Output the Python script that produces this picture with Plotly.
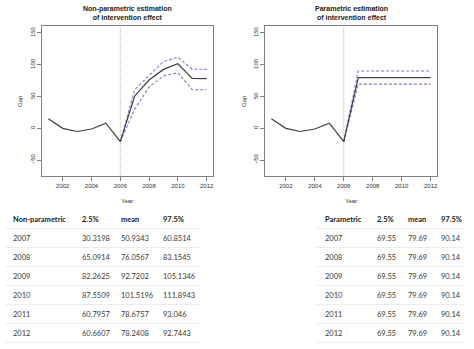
import plotly.graph_objects as go

W, H = 474, 349

years_pre = [2001, 2002, 2003, 2004, 2005, 2006]
gap_pre = [15, 0, -5, -1, 8, -21]
intervention_year = 2006

years_post = [2007, 2008, 2009, 2010, 2011, 2012]
np_low = [30.3198, 65.0914, 82.2625, 87.5509, 60.7957, 60.6607]
np_mean = [50.9343, 76.0567, 92.7202, 101.5196, 78.6757, 78.2408]
np_high = [60.8514, 83.1545, 105.1346, 111.8943, 93.046, 92.7443]

p_low = [69.55, 69.55, 69.55, 69.55, 69.55, 69.55]
p_mean = [79.69, 79.69, 79.69, 79.69, 79.69, 79.69]
p_high = [90.14, 90.14, 90.14, 90.14, 90.14, 90.14]

x_ticks = [2002, 2004, 2006, 2008, 2010, 2012]
y_ticks = [-50, 0, 50, 100, 150]

np_header = ["Non-parametric", "2.5%", "mean", "97.5%"]
p_header = ["Parametric", "2.5%", "mean", "97.5%"]
titles = ["Non-parametric estimation<br>of intervention effect",
          "Parametric estimation<br>of intervention effect"]


def px_x(p):
    return p / W


def px_y(p):
    return 1 - p / H


fig = go.Figure()

line_col = "#404040"
band_col = "#7b7be8"

panels = [
    ("x", "y", np_low, np_mean, np_high),
    ("x2", "y2", p_low, p_mean, p_high),
]
last_pre = gap_pre[-1]
for xa, ya, lo, mn, hi in panels:
    fig.add_shape(type="line", xref=xa, yref=f"{ya} domain", x0=intervention_year,
                  x1=intervention_year, y0=0, y1=1, layer="below",
                  line=dict(color="#b5b5b5", width=1, dash="1px,1px"))
    xs = [intervention_year] + years_post
    for series in (lo, hi):
        fig.add_trace(go.Scatter(x=xs, y=[last_pre] + series, mode="lines", xaxis=xa, yaxis=ya,
                                 line=dict(color=band_col, width=1.1, dash="3px,2px"),
                                 showlegend=False, hoverinfo="skip"))
    fig.add_trace(go.Scatter(x=years_pre + years_post, y=gap_pre + mn, mode="lines",
                             xaxis=xa, yaxis=ya, line=dict(color=line_col, width=1.2),
                             showlegend=False, hoverinfo="skip"))

tickfont = dict(family="Liberation Sans, Arial", size=6, color="#333333")
axis_common = dict(showgrid=False, zeroline=False, showline=True, mirror=True,
                   linecolor="#808080", linewidth=1, ticks="outside", ticklen=4,
                   tickcolor="#808080", tickfont=tickfont)

ydom = [px_y(176), px_y(26)]
fig.update_layout(
    xaxis=dict(domain=[px_x(42), px_x(213)], range=[2000.56, 2012.44], tickvals=x_ticks,
               anchor="y", **axis_common),
    yaxis=dict(domain=ydom, range=[-75, 161], tickvals=y_ticks, tickangle=-90,
               anchor="x", **axis_common),
    xaxis2=dict(domain=[px_x(265), px_x(437)], range=[2000.56, 2012.44], tickvals=x_ticks,
                anchor="y2", **axis_common),
    yaxis2=dict(domain=ydom, range=[-75, 161], tickvals=y_ticks, tickangle=-90,
                anchor="x2", **axis_common),
)

# titles and axis labels
lab_font = dict(family="Liberation Sans, Arial", size=6, color="#333333")
for cx, ylab_x, t in [(127, 20, titles[0]), (351, 244, titles[1])]:
    fig.add_annotation(text=f"<b>{t}</b>", xref="paper", yref="paper", x=px_x(cx), y=px_y(3),
                       xanchor="center", yanchor="top", showarrow=False,
                       font=dict(family="Liberation Sans, Arial", size=7, color="#222222"))
    fig.add_annotation(text="Gap", xref="paper", yref="paper", x=px_x(ylab_x), y=px_y(101),
                       textangle=-90, xanchor="center", yanchor="middle", showarrow=False,
                       font=lab_font)
    fig.add_annotation(text="Year", xref="paper", yref="paper", x=px_x(cx), y=px_y(201),
                       xanchor="center", yanchor="middle", showarrow=False, font=lab_font)

# tables (cells written from the arrays)
tfont = dict(family="Lato", size=7.5, color="#3a3a3a")
hfont = dict(family="Lato", size=7.5, color="#1a1a1a")
header_y = 219
row_step = 19.0

tables = [
    (np_header, [np_low, np_mean, np_high], [11, 80, 119, 161], 5, 200),
    (p_header, [p_low, p_mean, p_high], [322.7, 374.7, 406, 439], 316, 464),
]
for hdr, cols, col_x, l0, l1 in tables:
    for h, cx in zip(hdr, col_x):
        fig.add_annotation(text=f"<b>{h}</b>", xref="paper", yref="paper", x=px_x(cx),
                           y=px_y(header_y), xanchor="left", yanchor="middle",
                           showarrow=False, font=hfont)
    columns = [[str(y) for y in years_post]] + [[str(v) for v in c] for c in cols]
    for ci, (col, cx) in enumerate(zip(columns, col_x)):
        for ri, txt in enumerate(col):
            fig.add_annotation(text=txt, xref="paper", yref="paper", x=px_x(cx),
                               y=px_y(header_y + (ri + 1) * row_step), xanchor="left",
                               yanchor="middle", showarrow=False, font=tfont)
    for i in range(7):
        yy = header_y + row_step / 2 + i * row_step
        fig.add_shape(type="line", xref="paper", yref="paper", x0=px_x(l0), x1=px_x(l1),
                      y0=px_y(yy), y1=px_y(yy), line=dict(color="#ededed", width=1))

fig.update_layout(width=W, height=H, margin=dict(l=0, r=0, t=0, b=0),
                  paper_bgcolor="white", plot_bgcolor="white")

fig.write_html("out.html")
